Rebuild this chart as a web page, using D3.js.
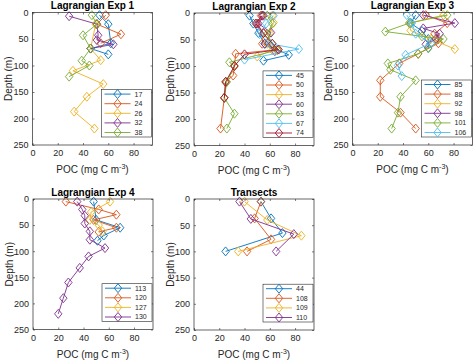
<!DOCTYPE html>
<html>
<head>
<meta charset="utf-8">
<script src="https://cdn.jsdelivr.net/npm/d3@7"></script>
<style>
  body { margin: 0; background: #fff; }
  svg text { font-family: "Liberation Sans", Arial, sans-serif; fill: #262626; }
</style>
</head>
<body>
<svg id="chart" width="474" height="363"></svg>
<script>
// MATLAB default line colours
var colors = ["#0072BD", "#D95319", "#EDB120", "#7E2F8E", "#77AC30", "#4DBEEE", "#A2142F"];

var xTicks = [0, 20, 40, 60, 80],
    yTicks = [0, 50, 100, 150, 200, 250];

// each series: [POC, depth]
var exp1Names = ["17", "24", "26", "32", "38"];
var exp1 = [
  [[53, 5], [60, 22], [62, 58], [46, 68], [60, 79]],
  [[58, 5], [51, 22], [70, 41], [54, 58]],
  [[50, 22], [46, 68], [54, 90], [32, 110], [56, 135], [43, 159], [33, 187], [49, 219]],
  [[29, 7], [51, 22], [52, 43], [51, 52], [64, 60], [46, 68]],
  [[47, 5], [51, 22], [40, 43], [46, 68], [39, 91], [45, 100], [29, 121]]
];

var exp2Names = ["45", "50", "53", "60", "63", "67", "74"];
var exp2 = [
  [[44, 5], [47, 20], [51, 38], [56, 58], [75, 79], [55, 90]],
  [[53, 5], [50, 20], [55, 38], [54, 58], [66, 69], [33, 77], [32, 100], [31, 118], [25, 130], [24, 160], [21, 218]],
  [[62, 5], [63, 18], [60, 38], [58, 58], [62, 70], [50, 82]],
  [[55, 5], [51, 20], [61, 37], [56, 58], [64, 72]],
  [[58, 5], [62, 20], [58, 40], [62, 58], [66, 70], [28, 93], [32, 100], [26, 130], [24, 160], [32, 190], [26, 218]],
  [[63, 5], [57, 20], [52, 40], [60, 58], [83, 68], [40, 88]],
  [[54, 5], [49, 20], [55, 38], [62, 58], [67, 69], [40, 78], [32, 100], [25, 130], [24, 160]]
];

var exp3Names = ["85", "88", "92", "98", "101", "106"];
var exp3 = [
  [[50, 5], [46, 20], [55, 35], [60, 50], [60, 67]],
  [[58, 5], [75, 20], [65, 40], [68, 50], [68, 58], [52, 78], [37, 96], [22, 128], [22, 159], [38, 189], [50, 219]],
  [[72, 5], [45, 20], [46, 34], [62, 50], [81, 69]],
  [[56, 5], [81, 20], [56, 30], [69, 40], [66, 50], [58, 60]],
  [[75, 5], [45, 20], [26, 36], [55, 45], [72, 50], [60, 67], [52, 78], [28, 96], [30, 108], [50, 128], [38, 159], [36, 189], [31, 219]],
  [[43, 5], [47, 20], [50, 40], [62, 58], [42, 80], [36, 100], [39, 120]]
];

var exp4Names = ["113", "120", "127", "130"];
var exp4 = [
  [[48, 5], [50, 40], [69, 55], [56, 70], [51, 80]],
  [[26, 5], [52, 20], [66, 30], [48, 40], [66, 55], [52, 63]],
  [[61, 5], [46, 25], [45, 40], [52, 50], [55, 62]],
  [[35, 5], [39, 20], [41, 32], [41, 47], [45, 62], [45, 78], [57, 94], [44, 110], [37, 132], [28, 160], [24, 190], [20, 220]]
];

var transNames = ["44", "108", "109", "110"];
var trans = [
  [[53, 5], [61, 37], [70, 65], [25, 100]],
  [[53, 5], [48, 37], [61, 77], [42, 100]],
  [[40, 5], [58, 40], [85, 70], [35, 100]],
  [[36, 5], [45, 38], [79, 67], [65, 100]]
];

var svg = d3.select("#chart");

var panels = [
  {title: "Lagrangian Exp 1", names: exp1Names, data: exp1, left: 32.5, top: 12.5, bottom: 145},
  {title: "Lagrangian Exp 2", names: exp2Names, data: exp2, left: 194, top: 13, bottom: 145.5},
  {title: "Lagrangian Exp 3", names: exp3Names, data: exp3, left: 352.5, top: 12.5, bottom: 145},
  {title: "Lagrangian Exp 4", names: exp4Names, data: exp4, left: 33, top: 199, bottom: 329.5},
  {title: "Transects", names: transNames, data: trans, left: 194, top: 199, bottom: 330}
];

var diamond = "M0,-4.5L3.7,0L0,4.5L-3.7,0Z";

panels.forEach(function(p) {
  var w = 120, h = p.bottom - p.top;
  var x = d3.scaleLinear().domain([0, 95]).range([0, w]),
      y = d3.scaleLinear().domain([0, 250]).range([0, h]);

  var g = svg.append("g").attr("transform", "translate(" + p.left + "," + p.top + ")");

  // series
  p.data.forEach(function(s, i) {
    var c = colors[i % colors.length];
    g.append("path")
      .datum(s)
      .attr("fill", "none")
      .attr("stroke", c)
      .attr("stroke-width", 0.9)
      .attr("d", d3.line().x(function(d) { return x(d[0]); }).y(function(d) { return y(d[1]); }));
    g.selectAll(".m" + i)
      .data(s)
      .enter().append("path")
      .attr("class", "m" + i)
      .attr("d", diamond)
      .attr("fill", "none")
      .attr("stroke", c)
      .attr("stroke-width", 0.9)
      .attr("transform", function(d) { return "translate(" + x(d[0]) + "," + y(d[1]) + ")"; });
  });

  // axes box, ticks inward on all sides
  var axCol = "#262626";
  g.append("g").attr("transform", "translate(0," + h + ")")
    .call(d3.axisBottom(x).tickValues(xTicks).tickSizeInner(-2).tickSizeOuter(0).tickPadding(5))
    .call(function(a) { a.select(".domain").remove(); a.selectAll("text").attr("font-size", 9); });
  g.append("g")
    .call(d3.axisLeft(y).tickValues(yTicks).tickSizeInner(-2).tickSizeOuter(0).tickPadding(4))
    .call(function(a) { a.select(".domain").remove(); a.selectAll("text").attr("font-size", 9); });
  g.append("g")
    .call(d3.axisTop(x).tickValues(xTicks).tickSizeInner(-2).tickSizeOuter(0).tickFormat(""))
    .call(function(a) { a.select(".domain").remove(); });
  g.append("g").attr("transform", "translate(" + w + ",0)")
    .call(d3.axisRight(y).tickValues(yTicks).tickSizeInner(-2).tickSizeOuter(0).tickFormat(""))
    .call(function(a) { a.select(".domain").remove(); });
  g.selectAll(".tick line").attr("stroke", axCol).attr("stroke-width", 0.6);
  g.selectAll(".tick text").attr("fill", axCol);
  g.append("rect").attr("width", w).attr("height", h)
    .attr("fill", "none").attr("stroke", axCol).attr("stroke-width", 0.7);

  // title and labels
  g.append("text").attr("x", w / 2).attr("y", -3.5)
    .attr("text-anchor", "middle").attr("font-size", 10).attr("font-weight", "bold")
    .style("fill", "#000").text(p.title);

  var xl = g.append("text").attr("x", w / 2).attr("y", h + 28)
    .attr("text-anchor", "middle").attr("font-size", 10);
  xl.append("tspan").text("POC (mg C m");
  xl.append("tspan").attr("font-size", 7).attr("dy", -4).text("-3");
  xl.append("tspan").attr("dy", 4).text(")");

  g.append("text").attr("transform", "translate(-20.5," + (h / 2) + ") rotate(-90)")
    .attr("text-anchor", "middle").attr("font-size", 10).text("Depth (m)");

  // legend, south-east corner
  var n = p.names.length, lw = 50, lh = (n - 1) * 9.6 + 9;
  var lg = g.append("g").attr("transform", "translate(" + (w - lw - 1) + "," + (h - lh - 8) + ")");
  lg.append("rect").attr("width", lw).attr("height", lh)
    .attr("fill", "#fff").attr("stroke", axCol).attr("stroke-width", 0.6);
  p.names.forEach(function(name, i) {
    var c = colors[i % colors.length], yy = 4.5 + i * 9.6;
    lg.append("line").attr("x1", 3).attr("x2", 29).attr("y1", yy).attr("y2", yy)
      .attr("stroke", c).attr("stroke-width", 0.9);
    lg.append("path").attr("d", diamond).attr("fill", "none").attr("stroke", c).attr("stroke-width", 0.9)
      .attr("transform", "translate(16," + yy + ")");
    lg.append("text").attr("x", 33).attr("y", yy).attr("dy", "0.35em")
      .attr("font-size", 7).text(name);
  });
});
</script>
</body>
</html>
